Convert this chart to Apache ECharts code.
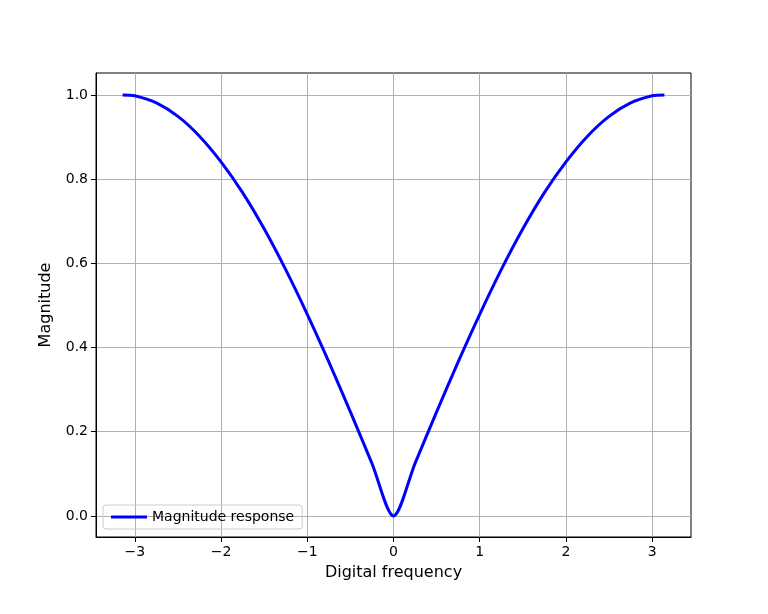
<!DOCTYPE html><html><head><meta charset="utf-8">
<script src="https://cdn.jsdelivr.net/npm/echarts@6/dist/echarts.min.js"></script>
<style>html,body{margin:0;background:#fff}#c{width:768px;height:614px}</style></head><body><div id="c"></div>
<script>
const freq = [-3.1416,-3.0,-2.75,-2.5,-2.25,-2.0,-1.75,-1.5,-1.25,-1.0,-0.75,-0.5,-0.25,0,0.25,0.5,0.75,1.0,1.25,1.5,1.75,2.0,2.25,2.5,2.75,3.0,3.1416];
const mag = [1.0,0.998,0.981,0.949,0.902,0.841,0.768,0.682,0.585,0.479,0.366,0.247,0.125,0.0,0.125,0.247,0.366,0.479,0.585,0.682,0.768,0.841,0.902,0.949,0.981,0.998,1.0];
const xTicks = [-3,-2,-1,0,1,2,3];
const yTicks = [0,0.2,0.4,0.6,0.8,1.0];
const ch = echarts.init(document.getElementById('c'));
const F = 'DejaVu Sans';
ch.setOption({
  animation:false,
  grid:{left:96,right:77,top:73,bottom:77,show:true,borderColor:'#000',borderWidth:1},
  legend:{left:103,bottom:85,orient:'vertical',data:['Magnitude response'],itemWidth:36,itemHeight:3,
    textStyle:{fontFamily:F,fontSize:14,color:'#000'},borderColor:'#ccc',borderWidth:1,borderRadius:3,padding:[5,8],
    icon:'rect'},
  xAxis:{type:'value',min:-3.45,max:3.45,name:'Digital frequency',nameLocation:'middle',nameGap:28,
    nameTextStyle:{fontFamily:F,fontSize:16,color:'#000'},
    axisLine:{onZero:false,lineStyle:{color:'#000'}},
    axisTick:{customValues:xTicks,length:5,lineStyle:{color:'#000'}},
    axisLabel:{customValues:xTicks,fontFamily:F,fontSize:14,color:'#000',formatter:v=>String(v).replace('-','−')},
    splitLine:{show:true,lineStyle:{color:'#b0b0b0',width:1}}},
  yAxis:{type:'value',min:-0.05,max:1.052,name:'Magnitude',nameLocation:'middle',nameGap:42,
    nameTextStyle:{fontFamily:F,fontSize:16,color:'#000'},
    axisLine:{onZero:false,lineStyle:{color:'#000'}},
    axisTick:{customValues:yTicks,length:5,lineStyle:{color:'#000'}},
    axisLabel:{customValues:yTicks,fontFamily:F,fontSize:14,color:'#000',formatter:v=>v.toFixed(1)},
    splitLine:{show:true,lineStyle:{color:'#b0b0b0',width:1}}},
  series:[{name:'Magnitude response',type:'line',data:freq.map((f,i)=>[f,mag[i]]),smooth:0.3,showSymbol:false,
    lineStyle:{color:'#0000ff',width:3},itemStyle:{color:'#0000ff'}}]
});
</script></body></html>
